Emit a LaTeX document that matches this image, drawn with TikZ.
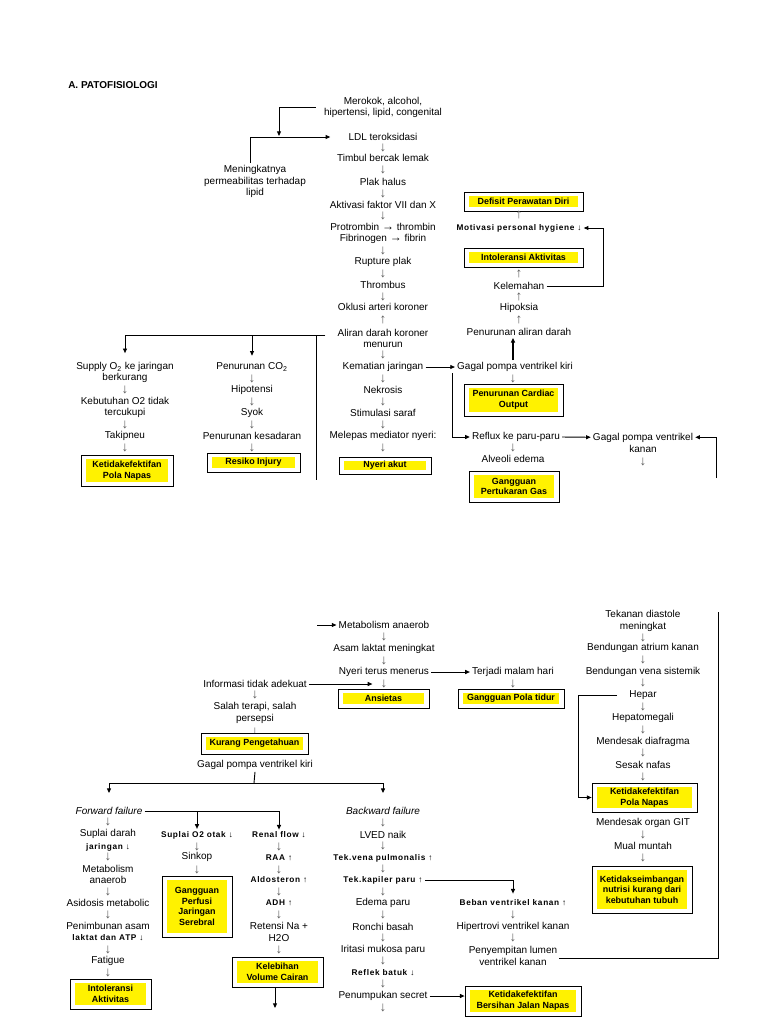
\documentclass[tikz,border=0pt]{standalone}
\usepackage{fontspec}
\setmainfont{Liberation Sans}
\newfontfamily\spaced[LetterSpace=8]{Liberation Sans}
\usetikzlibrary{arrows.meta}
\tikzset{
  txt/.style={inner sep=1.5pt, align=center, font=\fontsize{7.5}{8.6}\selectfont},
  itl/.style={inner sep=1.5pt, align=center, font=\itshape\fontsize{7.5}{8.6}\selectfont},
  sml/.style={inner sep=1.5pt, align=center, font=\spaced\bfseries\fontsize{6.2}{8}\selectfont},
  dn/.style={inner sep=0pt, text=black!65, font=\fontsize{10}{10}\selectfont},
  diag/.style={draw, fill=white, line width=0.6pt, align=center, inner sep=0pt,
    font=\bfseries\fontsize{6.7}{8}\selectfont,
    path picture={\fill[yellow] ([shift={(3.75pt,3pt)}]path picture bounding box.south west)
      rectangle ([shift={(-3.75pt,-3pt)}]path picture bounding box.north east);}},
  line/.style={line width=0.7pt},
  arr/.style={line width=0.7pt, -{Triangle[length=3.5pt,width=3pt]}}
}
\begin{document}
\begin{tikzpicture}[x=0.75pt,y=-0.75pt]
\fill[white] (0,0) rectangle (768,1024);
\useasboundingbox (0,0) rectangle (768,1024);

\node[txt, font=\bfseries\fontsize{7.5}{9}\selectfont, anchor=west] (title) at (66,85) {A. PATOFISIOLOGI};

% main chain
\node[txt] (merokok) at (383,107.5) {Merokok, alcohol,\\hipertensi, lipid, congenital};
\node[txt] (ldl) at (383,137) {LDL teroksidasi};
\node[dn] (d1) at (383,148) {↓};
\node[txt] (bercak) at (383,158) {Timbul bercak lemak};
\node[dn] (d2) at (383,170) {↓};
\node[txt] (plak) at (383,182) {Plak halus};
\node[dn] (d3) at (383,194) {↓};
\node[txt] (faktor) at (383,205) {Aktivasi faktor VII dan X};
\node[dn] (d4) at (383,216) {↓};
\node[txt] (protrombin) at (383,233.5) {Protrombin {\fontsize{9}{8.6}\selectfont →} thrombin\\Fibrinogen {\fontsize{9}{8.6}\selectfont →} fibrin};
\node[dn] (d5) at (383,251) {↓};
\node[txt] (rupture) at (383,262) {Rupture plak};
\node[dn] (d6) at (383,274) {↓};
\node[txt] (thrombus) at (383,285) {Thrombus};
\node[dn] (d7) at (383,297) {↓};
\node[txt] (oklusi) at (383,307) {Oklusi arteri koroner};
\node[dn] (d8) at (383,320) {↑};
\node[txt] (aliran) at (383,338.5) {Aliran darah koroner\\menurun};
\node[dn] (d9) at (383,355) {↓};
\node[txt] (kematian) at (383,367) {Kematian jaringan};
\node[dn] (d10) at (383,379) {↓};
\node[txt] (nekrosis) at (383,390) {Nekrosis};
\node[dn] (d11) at (383,402) {↓};
\node[txt] (saraf) at (383,413) {Stimulasi saraf};
\node[dn] (d12) at (383,425) {↓};
\node[txt] (mediator) at (383,436) {Melepas mediator nyeri:};
\node[dn] (d13) at (383,448) {↓};
\node[diag, minimum width=69pt, minimum height=12.75pt] (nyeri) at (385,465.5) {Nyeri akut};

\node[txt] (permeabel) at (255,181.5) {Meningkatnya\\permeabilitas terhadap\\lipid};

% left branches
\node[txt] (supply) at (125,372.5) {Supply O\textsubscript{2} ke jaringan\\berkurang};
\node[dn] (e1) at (125,390) {↓};
\node[txt] (kebutuhan) at (125,407.5) {Kebutuhan O2 tidak\\tercukupi};
\node[dn] (e2) at (125,425) {↓};
\node[txt] (takipneu) at (125,436) {Takipneu};
\node[dn] (e3) at (125,448) {↓};
\node[diag, minimum width=69pt, minimum height=23.25pt] (polanapas) at (127,470.5) {Ketidakefektifan\\Pola Napas};

\node[txt] (penco) at (252,367) {Penurunan CO\textsubscript{2}};
\node[dn] (f1) at (252,379) {↓};
\node[txt] (hipotensi) at (252,390) {Hipotensi};
\node[dn] (f2) at (252,402) {↓};
\node[txt] (syok) at (252,413) {Syok};
\node[dn] (f3) at (252,425) {↓};
\node[txt] (kesadaran) at (252,436) {Penurunan kesadaran};
\node[dn] (f4) at (252,448) {↓};
\node[diag, minimum width=69.75pt, minimum height=14.25pt] (injury) at (253.5,462.5) {Resiko Injury};

% right side
\node[diag, minimum width=89.25pt, minimum height=14.25pt] (defisit) at (523.5,201.5) {Defisit Perawatan Diri};
\node[dn] (g1) at (519,215) {↑};
\node[sml] (motivasi) at (519,228) {Motivasi personal hygiene ↓};
\node[diag, minimum width=89.25pt, minimum height=14.25pt] (intol1) at (523.5,257.5) {Intoleransi Aktivitas};
\node[dn] (g2) at (519,274) {↑};
\node[txt] (kelemahan) at (519,286) {Kelemahan};
\node[dn] (g3) at (519,297) {↑};
\node[txt] (hipoksia) at (519,308) {Hipoksia};
\node[dn] (g4) at (519,320) {↑};
\node[txt] (penaliran) at (519,332) {Penurunan aliran darah};
\node[txt] (gagalki) at (515,367) {Gagal pompa ventrikel kiri};
\node[dn] (g5) at (513,379) {↓};
\node[diag, minimum width=74.25pt, minimum height=24pt] (cardiac) at (513.5,400) {Penurunan Cardiac\\Output};
\node[txt] (reflux) at (516,437) {Reflux ke paru-paru};
\node[dn] (g6) at (513,448) {↓};
\node[txt] (alveoli) at (513,459) {Alveoli edema};
\node[diag, minimum width=67.5pt, minimum height=23.25pt] (gasex) at (514,486.5) {Gangguan\\Pertukaran Gas};
\node[txt] (gagalka) at (643,443) {Gagal pompa ventrikel\\kanan};
\node[dn] (g7) at (643,462) {↓};

\coordinate (mjoin) at (279,136);
\coordinate (mleft) at (250,136);
\coordinate (asplit) at ([shift={(-7.5pt,2.5pt)}]aliran.west);
\coordinate (acut) at (316,480);
\coordinate (kloop) at (603,286);
\coordinate (rloop) at (716,478);

\draw[arr] ([xshift=-4.5pt]merokok.west) -| (mjoin);
\draw[arr] (permeabel.north -| mleft) |- ([xshift=-12pt]ldl.west);
\draw[arr, shorten >=5pt] (asplit) -| (supply.north);
\draw[arr, shorten >=3.5pt] (asplit -| penco.north) -- (penco.north);
\draw[line] (asplit -| acut) -- (acut);
\draw[arr] (kematian.east) -- (gagalki.west);
\draw[arr] ([shift={(-1.5pt,-4.5pt)}]gagalki.west) |- (reflux.west);
\draw[arr, line width=0.9pt] ([xshift=-1.5pt]gagalki.north) -- ([xshift=-1.5pt]gagalki.north |- penaliran.south);
\draw[arr] (kelemahan.east) -- (kloop) |- (motivasi.east);
\draw[arr] (reflux.east) -- ([yshift=4.3pt]gagalka.west);
\draw[arr] (rloop) |- ([yshift=4.3pt]gagalka.east);

% second part
\coordinate (mcut) at (317,625);
\node[txt] (metab) at (384,625) {Metabolism anaerob};
\node[dn] (h1) at (384,637) {↓};
\node[txt] (laktat) at (384,649) {Asam laktat meningkat};
\node[dn] (h2) at (384,661) {↓};
\node[txt] (nyeriterus) at (384,672) {Nyeri terus menerus};
\node[dn] (h3) at (384,684) {↓};
\node[diag, minimum width=68.25pt, minimum height=14.25pt] (ansietas) at (383.5,698.5) {Ansietas};
\node[txt] (malam) at (513,672) {Terjadi malam hari};
\node[dn] (h4) at (513,684) {↓};
\node[diag, minimum width=79.5pt, minimum height=14.25pt] (tidur) at (511,698.5) {Gangguan Pola tidur};

\node[txt] (info) at (255,684) {Informasi tidak adekuat};
\node[dn] (i1) at (255,695) {↓};
\node[txt] (salah) at (255,713) {Salah terapi, salah\\persepsi};
\node[dn] (i2) at (255,732) {↓};
\node[diag, minimum width=80.25pt, minimum height=15.75pt] (kurang) at (254.5,743.5) {Kurang Pengetahuan};
\node[txt] (gagal2) at (255,765) {Gagal pompa ventrikel kiri};
\coordinate (split2) at (254,783);

\draw[arr] (mcut) -- (metab.west);
\draw[arr] (nyeriterus.east) -- (malam.west);
\draw[arr] (info.east) -- ([xshift=-6pt]info.east -| h3.west);

% forward failure
\node[itl] (forward) at (109,811) {Forward failure};
\node[dn] (j1) at (108,822) {↓};
\node[txt] (suplai) at (108,834) {Suplai darah};
\node[sml] (jaringan) at (108,847) {jaringan ↓};
\node[dn] (j2) at (108,857) {↓};
\node[txt] (metab2) at (108,874.5) {Metabolism\\anaerob};
\node[dn] (j3) at (108,892) {↓};
\node[txt] (asidosis) at (108,903) {Asidosis metabolic};
\node[dn] (j4) at (108,915) {↓};
\node[txt] (penimbunan) at (108,926) {Penimbunan asam};
\node[sml] (atp) at (108,938) {laktat dan ATP ↓};
\node[dn] (j5) at (108,950) {↓};
\node[txt] (fatigue) at (108,961) {Fatigue};
\node[dn] (j6) at (108,973) {↓};
\node[diag, minimum width=60.75pt, minimum height=22.5pt] (intol2) at (110.5,994) {Intoleransi\\Aktivitas};

\node[sml] (otak) at (197,835) {Suplai O2 otak ↓};
\node[dn] (k1) at (197,847) {↓};
\node[txt] (sinkop) at (197,857) {Sinkop};
\node[dn] (k2) at (197,870) {↓};
\node[diag, minimum width=52.5pt, minimum height=45.75pt] (perfusi) at (197,906.5) {Gangguan\\Perfusi\\Jaringan\\Serebral};

\node[sml] (renal) at (279,835) {Renal flow ↓};
\node[dn] (l1) at (279,847) {↓};
\node[sml] (raa) at (279,858) {RAA ↑};
\node[dn] (l2) at (279,870) {↓};
\node[sml] (aldo) at (279,880) {Aldosteron ↑};
\node[dn] (l3) at (279,892) {↓};
\node[sml] (adh) at (279,903) {ADH ↑};
\node[dn] (l4) at (279,915) {↓};
\node[txt] (retensi) at (279,932) {Retensi Na +\\H2O};
\node[dn] (l5) at (279,950) {↓};
\node[diag, minimum width=68.25pt, minimum height=22.5pt] (cairan) at (277.5,972) {Kelebihan\\Volume Cairan};
\coordinate (ccut) at (275,1008);

% backward failure
\node[itl] (backward) at (383,811) {Backward failure};
\node[dn] (m1) at (383,823) {↓};
\node[txt] (lved) at (383,835) {LVED naik};
\node[dn] (m2) at (383,846) {↓};
\node[sml] (vena) at (383,858) {Tek.vena pulmonalis ↑};
\node[dn] (m3) at (383,869) {↓};
\node[sml] (kapiler) at (383,880) {Tek.kapiler paru ↑};
\node[dn] (m4) at (383,892) {↓};
\node[txt] (edema) at (383,903) {Edema paru};
\node[dn] (m5) at (383,915) {↓};
\node[txt] (ronchi) at (383,927) {Ronchi basah};
\node[dn] (m6) at (383,938) {↓};
\node[txt] (iritasi) at (383,950) {Iritasi mukosa paru};
\node[dn] (m7) at (383,961) {↓};
\node[sml] (batuk) at (383,973) {Reflek batuk ↓};
\node[dn] (m8) at (383,984) {↓};
\node[txt] (secret) at (383,996) {Penumpukan secret};
\node[dn] (m9) at (383,1008) {↓};
\node[diag, minimum width=87pt, minimum height=22.5pt] (bersihan) at (523,1001) {Ketidakefektifan\\Bersihan Jalan Napas};

\node[sml] (beban) at (513,903) {Beban ventrikel kanan ↑};
\node[dn] (n1) at (513,915) {↓};
\node[txt] (hipertrovi) at (513,927) {Hipertrovi ventrikel kanan};
\node[dn] (n2) at (513,938) {↓};
\node[txt] (lumen) at (513,956) {Penyempitan lumen\\ventrikel kanan};
\coordinate (rcut) at (718,612);

% right column
\node[txt] (diastole) at (643,621) {Tekanan diastole\\meningkat};
\node[dn] (o1) at (643,638) {↓};
\node[txt] (atrium) at (643,648) {Bendungan atrium kanan};
\node[dn] (o2) at (643,660) {↓};
\node[txt] (sistemik) at (643,672) {Bendungan vena sistemik};
\node[dn] (o3) at (643,683) {↓};
\node[txt] (hepar) at (643,695) {Hepar};
\node[dn] (o4) at (643,707) {↓};
\node[txt] (hepato) at (643,718) {Hepatomegali};
\node[dn] (o5) at (643,730) {↓};
\node[txt] (diafragma) at (643,742) {Mendesak diafragma};
\node[dn] (o6) at (643,753) {↓};
\node[txt] (sesak) at (643,765) {Sesak nafas};
\node[dn] (o7) at (643,777) {↓};
\node[diag, minimum width=78.75pt, minimum height=21.75pt] (polanapas2) at (644.5,797.5) {Ketidakefektifan\\Pola Napas};
\node[txt] (git) at (643,823) {Mendesak organ GIT};
\node[dn] (o8) at (643,835) {↓};
\node[txt] (mual) at (643,846) {Mual muntah};
\node[dn] (o9) at (643,858) {↓};
\node[diag, minimum width=75pt, minimum height=35.25pt] (nutrisi) at (642,889.5) {Ketidakseimbangan\\nutrisi kurang dari\\kebutuhan tubuh};
\coordinate (hloop) at (578,695);

\draw[line] (gagal2.south) -- (split2);
\draw[arr, shorten >=9pt] (split2) -| (forward.north);
\draw[arr, shorten >=9pt] (split2) -| (backward.north);
\draw[line] (forward.east) -- (forward.east -| renal.north);
\draw[arr] (forward.east -| otak.north) -- (otak.north);
\draw[arr] (forward.east -| renal.north) -- (renal.north);
\draw[arr] (cairan.south -| ccut) -- (ccut);
\draw[arr, shorten >=3pt] (kapiler.east) -| (beban.north);
\draw[arr] (secret.east) -- (secret.east -| bersihan.west);
\draw[line] ([yshift=-1.5pt]lumen.east) -| (rcut);
\draw[arr] ([xshift=-7.5pt]hepar.west) -- (hloop) |- (polanapas2.west);

\end{tikzpicture}
\end{document}
